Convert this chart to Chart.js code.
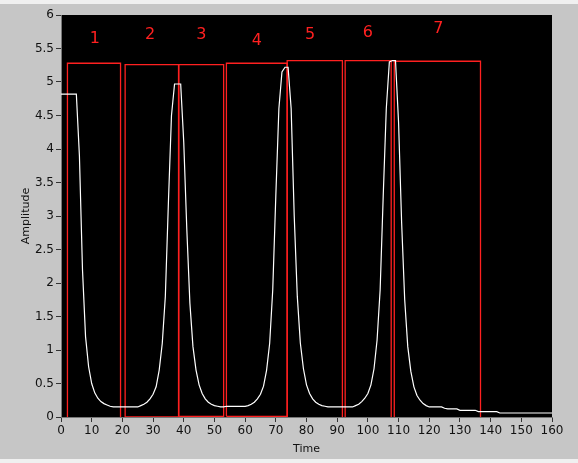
<!DOCTYPE html>
<html><head><meta charset="utf-8">
<script src="https://cdn.jsdelivr.net/npm/chart.js@4"></script>
<style>html,body{margin:0;padding:0;background:#f0f0f0}#wrap{width:578px;height:463px}</style>
</head><body><div id="wrap"><canvas id="c" width="578" height="463"></canvas></div>
<script>
// ─── DATA ─────────────────────────────────────────────────────
const amplitude = [
  4.82,4.82,4.82,4.82,4.82,4.82,3.9,2.2,1.2,0.75,
  0.5,0.36,0.28,0.23,0.2,0.18,0.16,0.15,0.15,0.15,
  0.15,0.15,0.15,0.15,0.15,0.15,0.17,0.19,0.22,0.27,
  0.34,0.45,0.7,1.1,1.8,3.2,4.5,4.97,4.97,4.97,
  4.1,2.8,1.7,1.05,0.7,0.48,0.35,0.27,0.22,0.19,
  0.17,0.16,0.15,0.15,0.16,0.16,0.16,0.16,0.16,0.16,
  0.16,0.17,0.19,0.22,0.27,0.34,0.46,0.7,1.1,1.9,
  3.3,4.6,5.15,5.22,5.22,4.6,3.0,1.8,1.1,0.72,
  0.48,0.35,0.27,0.22,0.19,0.17,0.16,0.15,0.15,0.15,
  0.15,0.15,0.15,0.15,0.15,0.15,0.17,0.19,0.23,0.28,
  0.35,0.48,0.72,1.15,1.9,3.3,4.6,5.3,5.32,5.32,
  4.4,2.9,1.75,1.05,0.68,0.45,0.32,0.25,0.2,0.17,
  0.15,0.15,0.15,0.15,0.15,0.13,0.12,0.12,0.12,0.12,
  0.1,0.1,0.1,0.1,0.1,0.1,0.08,0.08,0.08,0.08,
  0.08,0.08,0.08,0.06,0.06,0.06,0.06,0.06,0.06,0.06,
  0.06,0.06,0.06,0.06,0.06,0.06,0.06,0.06,0.06,0.06,0.06
];
// boxes: [left, right, bottom, top] in data units
const boxes = [
  [2.1, 19.4, -0.02, 5.28],
  [20.9, 38.3, 0.0, 5.26],
  [38.4, 53.0, 0.01, 5.26],
  [53.9, 73.7, 0.01, 5.28],
  [73.7, 91.7, -0.05, 5.32],
  [92.6, 107.6, -0.02, 5.32],
  [108.6, 136.7, -0.06, 5.31]
];
const boxLabels = ['1','2','3','4','5','6','7'];
const labelX = [11, 29, 45.7, 63.8, 81.2, 100, 123];
const labelY = [5.65, 5.7, 5.7, 5.62, 5.7, 5.74, 5.8];

// ─── DATASETS ─────────────────────────────────────────────────
const datasets = [{
  data: amplitude.map((v, i) => ({ x: i, y: v })),
  borderColor: '#ffffff', borderWidth: 1.2, pointRadius: 0, tension: 0, order: 0
}];
boxes.forEach(b => {
  datasets.push({
    data: [{x:b[0],y:b[2]},{x:b[0],y:b[3]},{x:b[1],y:b[3]},{x:b[1],y:b[2]},{x:b[0],y:b[2]}],
    borderColor: '#ff2020', borderWidth: 1.3, pointRadius: 0, tension: 0, order: 1
  });
});

const bgPlugin = {
  id: 'bg',
  beforeDraw(chart) {
    const { ctx, chartArea: a } = chart;
    ctx.save();
    ctx.fillStyle = '#c6c6c6';
    ctx.fillRect(0, 4, chart.width, chart.height - 8);
    ctx.fillStyle = '#000';
    ctx.fillRect(a.left, a.top, a.right - a.left, a.bottom - a.top);
    ctx.restore();
  },
  afterDatasetsDraw(chart) {
    const { ctx, scales: { x, y } } = chart;
    ctx.save();
    ctx.fillStyle = '#ff2020';
    ctx.font = '16px "DejaVu Sans"';
    ctx.textAlign = 'center';
    ctx.textBaseline = 'middle';
    boxLabels.forEach((t, i) => ctx.fillText(t, x.getPixelForValue(labelX[i]), y.getPixelForValue(labelY[i])));
    ctx.restore();
  }
};

const tickFont = { family: 'DejaVu Sans', size: 12 };
new Chart(document.getElementById('c'), {
  type: 'line',
  data: { datasets },
  plugins: [bgPlugin],
  options: {
    responsive: false, animation: false,
    layout: { padding: { top: 15, right: 26, left: 20, bottom: 7 } },
    plugins: { legend: { display: false }, tooltip: { enabled: false } },
    scales: {
      x: {
        type: 'linear', min: 0, max: 160,
        ticks: { stepSize: 10, color: '#111', font: tickFont, padding: 2, maxRotation: 0 },
        grid: { drawOnChartArea: false, drawTicks: true, tickLength: 5, color: '#333' },
        border: { color: '#777' },
        title: { display: true, text: 'Time', color: '#111', font: { family: 'DejaVu Sans', size: 11 }, padding: 0 },
        afterFit(s) { s.height = 39; }
      },
      y: {
        min: 0, max: 6,
        ticks: { stepSize: 0.5, color: '#111', font: tickFont, padding: 2, callback: v => String(v) },
        grid: { drawOnChartArea: false, drawTicks: true, tickLength: 5, color: '#333' },
        border: { color: '#777' },
        title: { display: true, text: 'Amplitude', color: '#111', font: { family: 'DejaVu Sans', size: 11 }, padding: 0 },
        afterFit(s) { s.width = 41; }
      }
    }
  }
});
</script></body></html>
